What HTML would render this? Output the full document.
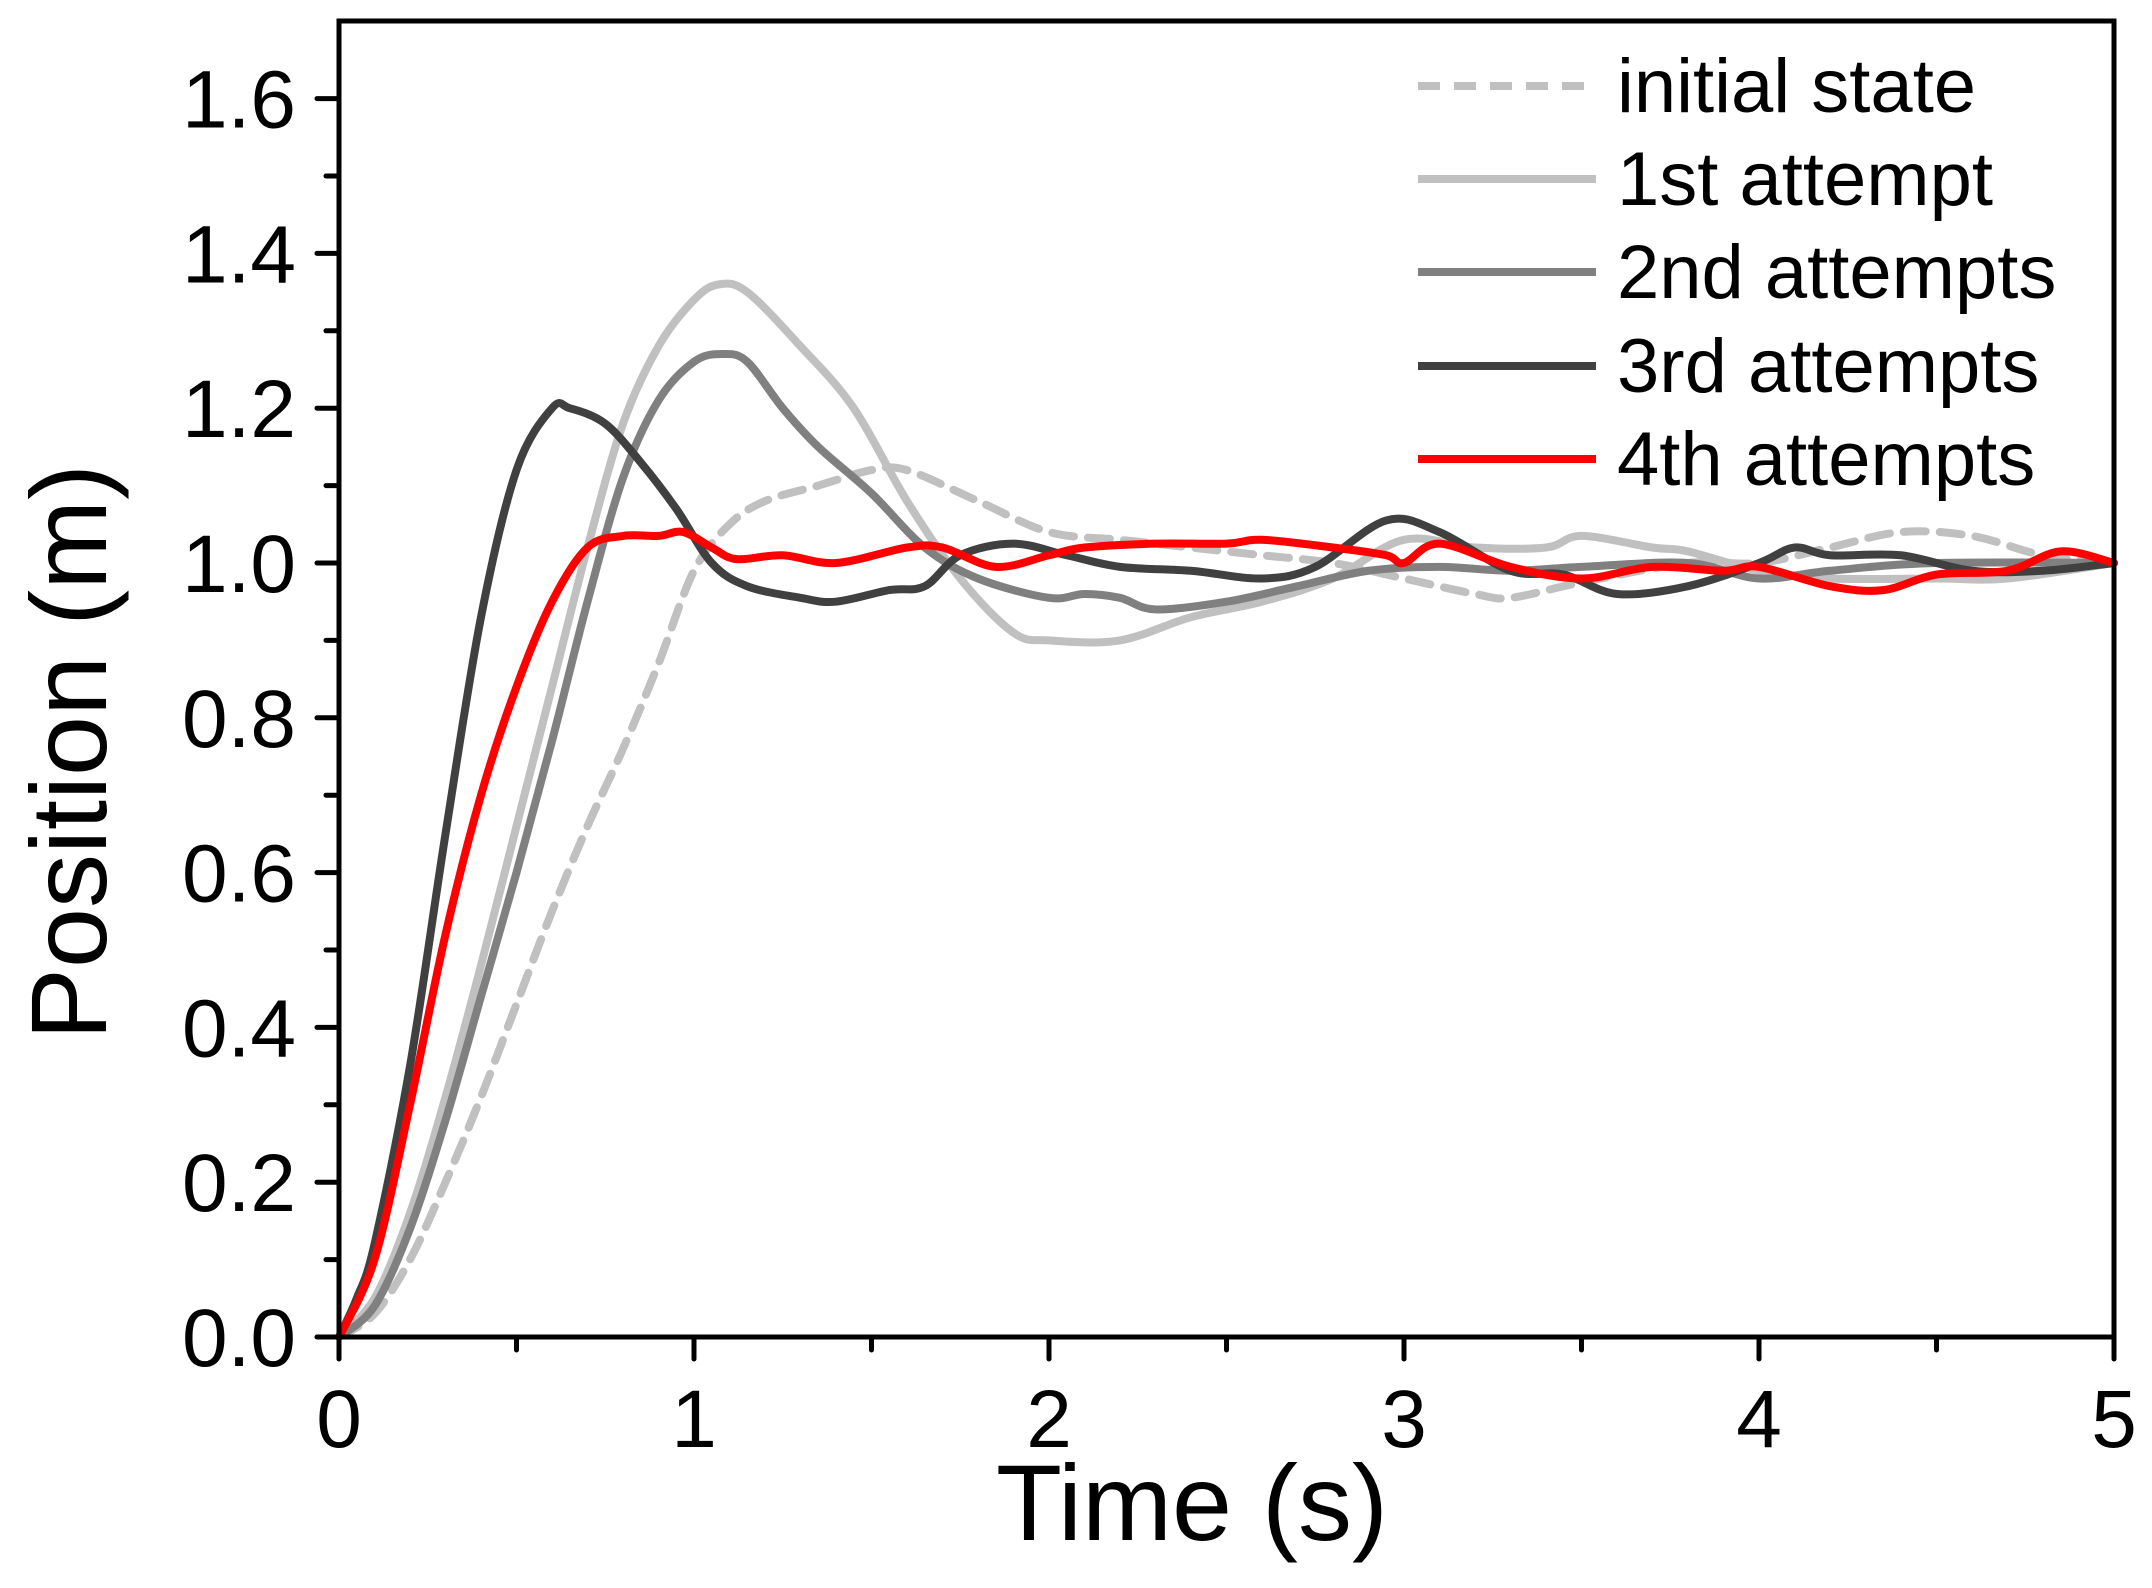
<!DOCTYPE html>
<html><head><meta charset="utf-8"><style>
html,body{margin:0;padding:0;background:#fff}
svg{display:block}
text{font-family:"Liberation Sans",Arial,sans-serif;fill:#000}
</style></head><body>
<svg id="s" width="2152" height="1588" viewBox="0 0 2152 1588" xmlns="http://www.w3.org/2000/svg">
<g id="curves" fill="none" stroke-linejoin="round" stroke-linecap="round"></g>
<rect x="339" y="21" width="1775" height="1316" fill="none" stroke="#000" stroke-width="5"/>
<g id="ticks" stroke="#000" stroke-width="5" stroke-linecap="round"></g>
<g id="labels" font-size="82"></g>
<text x="1192" y="1540" font-size="108" text-anchor="middle">Time (s)</text>
<text transform="translate(106,752) rotate(-90)" font-size="108" text-anchor="middle">Position (m)</text>
<g font-size="76">
<line x1="1418" y1="86" x2="1596" y2="86" stroke="#c0c0c0" stroke-width="8" stroke-dasharray="22,14"/>
<text x="1617" y="112">initial state</text>
<line x1="1418" y1="179" x2="1596" y2="179" stroke="#c0c0c0" stroke-width="8"/>
<text x="1617" y="205">1st attempt</text>
<line x1="1418" y1="272" x2="1596" y2="272" stroke="#808080" stroke-width="8"/>
<text x="1617" y="298">2nd attempts</text>
<line x1="1418" y1="366" x2="1596" y2="366" stroke="#404040" stroke-width="8"/>
<text x="1617" y="392">3rd attempts</text>
<line x1="1418" y1="459" x2="1596" y2="459" stroke="#ff0000" stroke-width="8"/>
<text x="1617" y="485">4th attempts</text>
</g>
</svg>
<script>
var X0=339,XU=355,Y0=1337,YU=774;
function mx(t){return X0+t*XU} function my(v){return Y0-v*YU}
var NS="http://www.w3.org/2000/svg";
function el(n,a,p){var e=document.createElementNS(NS,n);for(var k in a)e.setAttribute(k,a[k]);p.appendChild(e);return e}
var tk=document.getElementById('ticks'),lb=document.getElementById('labels');
for(var i=0;i<=10;i++){var x=mx(i*0.5);el('line',{x1:x,y1:Y0,x2:x,y2:Y0+(i%2?13:22)},tk);
 if(i%2==0){var t=el('text',{x:x,y:1447,'text-anchor':'middle'},lb);t.textContent=String(i/2);}}
for(var i=0;i<=16;i++){var y=my(i*0.1);el('line',{x1:X0,y1:y,x2:X0-(i%2?13:22),y2:y},tk);
 if(i%2==0){var t=el('text',{x:296,y:y+29,'text-anchor':'end'},lb);t.textContent=(i/10).toFixed(1);}}
function path(pts){var p=pts.map(function(q){return [mx(q[0]),my(q[1])]});
 var d="M"+p[0][0]+","+p[0][1];
 for(var i=0;i<p.length-1;i++){var a=p[i>0?i-1:0],b=p[i],c=p[i+1],e=p[i+2<p.length?i+2:i+1];
  d+=" C"+(b[0]+(c[0]-a[0])/6)+","+(b[1]+(c[1]-a[1])/6)+" "+(c[0]-(e[0]-b[0])/6)+","+(c[1]-(e[1]-b[1])/6)+" "+c[0]+","+c[1];}
 return d;}
var S=[
["#c0c0c0",[[0,0],[0.1,0.03],[0.2,0.1],[0.3,0.2],[0.4,0.31],[0.5,0.43],[0.6,0.55],[0.7,0.66],[0.8,0.76],[0.9,0.87],[1.0,0.99],[1.1,1.05],[1.2,1.08],[1.35,1.1],[1.5,1.12],[1.6,1.12],[1.8,1.08],[2.0,1.04],[2.2,1.03],[2.4,1.02],[2.6,1.01],[2.8,1.0],[3.0,0.98],[3.2,0.96],[3.3,0.955],[3.5,0.975],[3.8,1.0],[4.0,1.0],[4.2,1.02],[4.4,1.04],[4.6,1.035],[4.8,1.01],[5,1.0]],"22,14"],
["#c0c0c0",[[0,0],[0.1,0.05],[0.2,0.16],[0.3,0.31],[0.4,0.48],[0.5,0.66],[0.6,0.84],[0.7,1.02],[0.8,1.18],[0.9,1.28],[1.0,1.34],[1.07,1.36],[1.15,1.35],[1.3,1.28],[1.45,1.2],[1.6,1.08],[1.75,0.98],[1.9,0.91],[2.0,0.9],[2.2,0.9],[2.4,0.93],[2.6,0.95],[2.8,0.98],[3.0,1.03],[3.2,1.02],[3.4,1.02],[3.5,1.035],[3.7,1.02],[3.8,1.015],[4.0,0.99],[4.2,0.98],[4.5,0.98],[4.7,0.98],[5,1.0]]],
["#808080",[[0,0],[0.1,0.04],[0.2,0.14],[0.3,0.28],[0.4,0.44],[0.5,0.6],[0.6,0.77],[0.7,0.95],[0.8,1.11],[0.9,1.21],[1.0,1.26],[1.08,1.27],[1.15,1.26],[1.25,1.2],[1.35,1.15],[1.5,1.09],[1.65,1.02],[1.8,0.98],[2.0,0.955],[2.1,0.96],[2.2,0.955],[2.3,0.94],[2.5,0.95],[2.7,0.97],[2.9,0.99],[3.1,0.995],[3.3,0.99],[3.5,0.995],[3.8,1.0],[4.0,0.98],[4.2,0.99],[4.5,1.0],[5,1.0]]],
["#404040",[[0,0],[0.05,0.05],[0.1,0.12],[0.2,0.35],[0.3,0.65],[0.4,0.93],[0.5,1.12],[0.6,1.2],[0.65,1.2],[0.75,1.18],[0.85,1.13],[0.95,1.07],[1.05,1.0],[1.15,0.97],[1.3,0.955],[1.4,0.95],[1.55,0.965],[1.65,0.97],[1.75,1.01],[1.9,1.025],[2.05,1.01],[2.2,0.995],[2.4,0.99],[2.6,0.98],[2.75,0.995],[2.95,1.055],[3.1,1.04],[3.3,0.99],[3.45,0.985],[3.6,0.96],[3.8,0.97],[4.0,1.0],[4.1,1.02],[4.2,1.01],[4.4,1.01],[4.6,0.99],[4.8,0.99],[5,1.0]]],
["#ff0000",[[0,0],[0.1,0.1],[0.2,0.3],[0.3,0.52],[0.4,0.7],[0.5,0.84],[0.6,0.95],[0.7,1.02],[0.8,1.035],[0.9,1.035],[0.97,1.04],[1.05,1.02],[1.12,1.005],[1.25,1.01],[1.4,1.0],[1.6,1.02],[1.7,1.02],[1.85,0.995],[2.0,1.01],[2.1,1.02],[2.3,1.025],[2.5,1.025],[2.6,1.03],[2.8,1.02],[2.95,1.01],[3.0,1.0],[3.1,1.025],[3.3,0.995],[3.5,0.98],[3.7,0.995],[3.9,0.99],[4.0,0.995],[4.2,0.97],[4.35,0.965],[4.5,0.985],[4.7,0.99],[4.85,1.015],[5,1.0]]]
];
var cg=document.getElementById('curves');
S.forEach(function(s){var a={d:path(s[1]),stroke:s[0],'stroke-width':8};if(s[2])a['stroke-dasharray']=s[2];el('path',a,cg);});
</script>
</body></html>
